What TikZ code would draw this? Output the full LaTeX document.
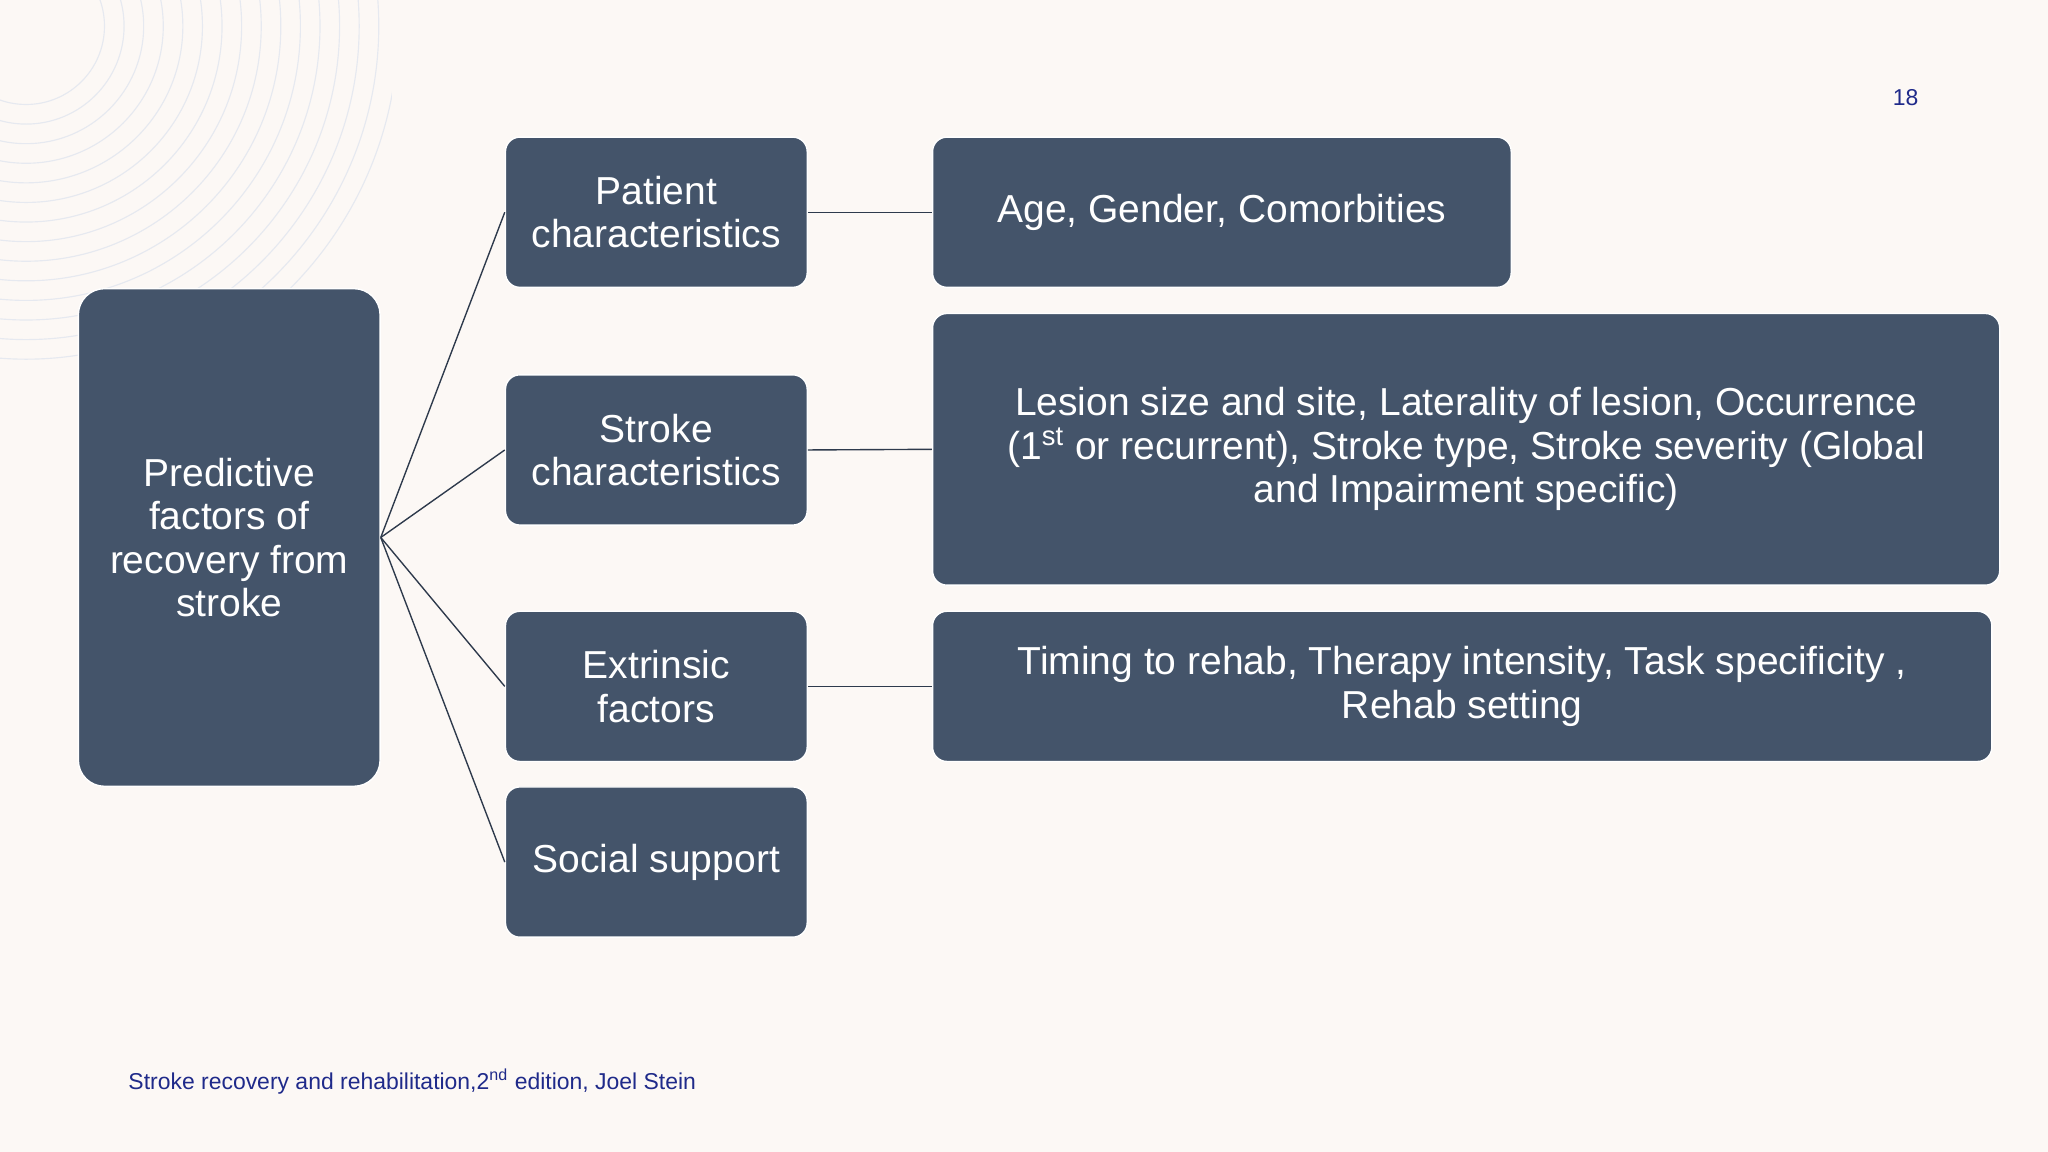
\documentclass[tikz,border=0pt]{standalone}
\usepackage{fontspec}
\setmainfont{Liberation Sans}
\begin{document}
\begin{tikzpicture}[x=0.02cm,y=-0.02cm,
  box/.style={draw=white,line width=0.6pt,fill=boxc,text=white,rounded corners=0.22cm,align=center,inner sep=2pt,font=\fontsize{17}{19}\selectfont},
  conn/.style={draw=linec,line width=0.6pt}]
\definecolor{boxc}{HTML}{44546A}
\definecolor{bgc}{HTML}{FCF8F5}
\definecolor{linec}{HTML}{2E3A4C}
\definecolor{navy}{HTML}{1F2A8A}
\definecolor{arcc}{HTML}{E6E9F0}
\fill[bgc] (0,0) rectangle (1568,882);
\useasboundingbox (0,0) rectangle (1568,882);
\begin{scope}
\clip (0,0) rectangle (300,280);
\foreach \r in {60,75,...,285} \draw[arcc,line width=0.5pt] (20,20) circle[radius=\r];
\end{scope}
\node[box,rounded corners=0.4cm,minimum width=231*0.02cm,minimum height=381*0.02cm] (p) at (175.5,411.5) {Predictive\\factors of\\recovery from\\stroke};
\node[box,minimum width=231*0.02cm,minimum height=115*0.02cm] (a) at (502.5,162.5) {Patient\\characteristics};
\node[box,minimum width=231*0.02cm,minimum height=115*0.02cm] (b) at (502.5,344.5) {Stroke\\characteristics};
\node[box,minimum width=231*0.02cm,minimum height=115*0.02cm] (c) at (502.5,525.5) {Extrinsic\\factors};
\node[box,minimum width=231*0.02cm,minimum height=115*0.02cm] (d) at (502.5,660) {Social support};
\node[box,minimum width=443*0.02cm,minimum height=115*0.02cm] (a2) at (935.5,162.5) {Age, Gender, Comorbities};
\node[box,minimum width=817*0.02cm,minimum height=208*0.02cm] (b2) at (1122.5,344) {Lesion size and site, Laterality of lesion, Occurrence\\(1\textsuperscript{st} or recurrent), Stroke type, Stroke severity (Global\\and Impairment specific)};
\node[box,minimum width=811*0.02cm,minimum height=115*0.02cm] (c2) at (1119.5,525.5) {Timing to rehab, Therapy intensity, Task specificity ,\\Rehab setting};
\foreach \t in {a,b,c,d} \draw[conn] (p.east) -- (\t.west);
\draw[conn] (a.east) -- (a2.west);
\draw[conn] (b.east) -- (b2.west);
\draw[conn] (c.east) -- (c2.west);
\node[text=navy,font=\fontsize{10}{12}\selectfont] (n) at (1459,75) {18};
\node[text=navy,font=\fontsize{10}{12}\selectfont,anchor=west,inner sep=0pt] (f) at (98,828) {Stroke recovery and rehabilitation,2\textsuperscript{nd} edition, Joel Stein};
\end{tikzpicture}
\end{document}
